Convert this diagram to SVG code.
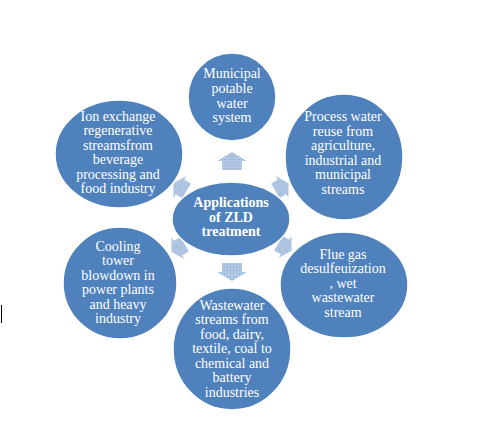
<svg xmlns="http://www.w3.org/2000/svg" width="478" height="424" viewBox="0 0 478 424">
<defs>
<pattern id="dots" width="3" height="3" patternUnits="userSpaceOnUse">
<rect width="3" height="3" fill="#b2c7e3"/>
<rect x="1" y="1" width="1" height="1" fill="#8eaad4"/>
</pattern>
<path id="arr" d="M0,-9 L15,0 L10,0 L10,9 L-10,9 L-10,0 L-15,0 Z"/>
</defs>
<style>
.n{fill:#4f81bd;stroke:#ffffff;stroke-width:1.5}
.t{font-family:"Liberation Serif","Times New Roman",serif;font-size:14px;fill:#ffffff;text-anchor:middle}
.b{font-weight:bold}
.a{fill:url(#dots)}
</style>
<rect width="478" height="424" fill="#ffffff"/>
<g id="connectors">
<use href="#arr" class="a" transform="translate(232,161)"/>
<use href="#arr" class="a" transform="translate(232,272) rotate(180)"/>
<use href="#arr" class="a" transform="translate(180,187) rotate(-60) scale(0.85)"/>
<use href="#arr" class="a" transform="translate(282,187) rotate(60) scale(0.85)"/>
<use href="#arr" class="a" transform="translate(178,248) rotate(-120) scale(0.85)"/>
<use href="#arr" class="a" transform="translate(285,247) rotate(120) scale(0.85)"/>
</g>
<g id="center">
<ellipse class="n" cx="231" cy="219" rx="59" ry="37"/>
<text class="t b" x="231" y="207">Applications</text>
<text class="t b" x="231" y="222">of ZLD</text>
<text class="t b" x="231" y="236">treatment</text>
</g>
<g id="municipal">
<ellipse class="n" cx="232" cy="97" rx="44" ry="44"/>
<text class="t" x="232" y="78">Municipal</text>
<text class="t" x="232" y="93">potable</text>
<text class="t" x="232" y="108">water</text>
<text class="t" x="232" y="122">system</text>
</g>
<g id="process">
<ellipse class="n" cx="344" cy="157" rx="59" ry="63"/>
<text class="t" x="343" y="120.5">Process water</text>
<text class="t" x="343" y="135.5">reuse from</text>
<text class="t" x="343" y="150">agriculture,</text>
<text class="t" x="343" y="164.5">industrial and</text>
<text class="t" x="343" y="179">municipal</text>
<text class="t" x="343" y="193.5">streams</text>
</g>
<g id="flue">
<ellipse class="n" cx="344" cy="285" rx="64" ry="53"/>
<text class="t" x="343" y="258.5">Flue gas</text>
<text class="t" x="343" y="273">desulfeuization</text>
<text class="t" x="343" y="287.5">, wet</text>
<text class="t" x="343" y="302">wastewater</text>
<text class="t" x="343" y="316.5">stream</text>
</g>
<g id="wastewater">
<ellipse class="n" cx="232" cy="349" rx="59" ry="61"/>
<text class="t" x="232" y="309.5">Wastewater</text>
<text class="t" x="232" y="324">streams from</text>
<text class="t" x="232" y="338.5">food, dairy,</text>
<text class="t" x="232" y="353">textile, coal to</text>
<text class="t" x="232" y="367.5">chemical and</text>
<text class="t" x="232" y="382">battery</text>
<text class="t" x="232" y="396.5">industries</text>
</g>
<g id="cooling">
<ellipse class="n" cx="120" cy="283" rx="57" ry="56"/>
<text class="t" x="118" y="250.5">Cooling</text>
<text class="t" x="118" y="265">tower</text>
<text class="t" x="118" y="279.5">blowdown in</text>
<text class="t" x="118" y="294">power plants</text>
<text class="t" x="118" y="308.5">and heavy</text>
<text class="t" x="118" y="323">industry</text>
</g>
<g id="ion">
<ellipse class="n" cx="119" cy="154" rx="64" ry="54"/>
<text class="t" x="118" y="120.5">Ion exchange</text>
<text class="t" x="118" y="135">regenerative</text>
<text class="t" x="118" y="149.5">streamsfrom</text>
<text class="t" x="118" y="164">beverage</text>
<text class="t" x="118" y="178.5">processing and</text>
<text class="t" x="118" y="193">food industry</text>
</g>
<line x1="1.5" y1="305" x2="1.5" y2="323" stroke="#000000" stroke-width="1"/>
</svg>
